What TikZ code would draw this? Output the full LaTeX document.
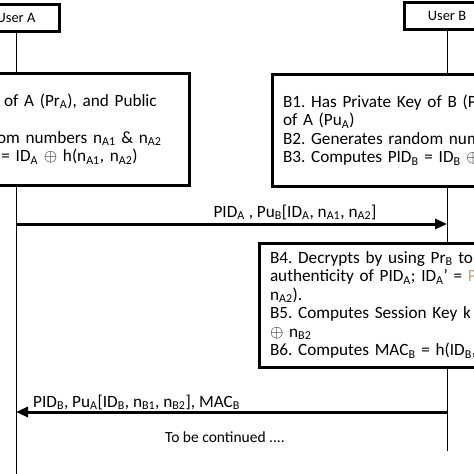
\documentclass[tikz,border=0pt]{standalone}
\usepackage{fontspec}
\setmainfont{Carlito}
\usepackage{tikz}
\usetikzlibrary{arrows.meta,positioning}
\definecolor{hltan}{RGB}{200,165,115}
\newcommand{\sbs}[1]{\textsubscript{#1}}
\frenchspacing

\begin{document}
\begin{tikzpicture}[
  x=1pt, y=-1pt,
  user/.style={draw, fill=white, line width=3pt, minimum width=86pt, minimum height=27pt, inner sep=0pt, outer sep=0pt, font=\fontsize{14.4}{17}\selectfont},
  stepbox/.style={draw, fill=white, line width=3pt, anchor=north west, outer sep=0pt, inner xsep=11pt, inner ysep=0pt, align=left, font=\fontsize{17.2}{18.5}\selectfont},
  life/.style={line width=0.8pt},
  msg/.style={-{Triangle[length=12pt,width=10pt]}, line width=3pt},
  lbl/.style={font=\fontsize{17.2}{19}\selectfont, anchor=base, inner sep=0pt}
]
  \useasboundingbox (0,0) rectangle (474,474);
  \clip (0,0) rectangle (474,474);

  % participants and lifelines
  \node[user] (userA) at (16,17.5) {User A};
  \node[user] (userB) at (447,16) {User B};
  \coordinate (endA) at (16,476);
  \coordinate (endB) at (447,451);
  \draw[life] (userA.south) -- (endA);
  \draw[life] (userB.south) -- (endB);

  % local steps
  \node[stepbox, minimum width=341pt, minimum height=112pt, text width=319pt] (boxA) at (-152,73)
    {A1. Has Private Key of A (Pr\sbs{A}), and Public\\
     Key of B (Pu\sbs{B})\\
     A2. Generates random numbers n\sbs{A1} \& n\sbs{A2}\\
     A3. Computes PID\sbs{A} = ID\sbs{A} $\oplus$ h(n\sbs{A1}, n\sbs{A2})};
  \node[stepbox, minimum width=400pt, minimum height=112pt, text width=378pt] (boxB) at (272,74)
    {B1. Has Private Key of B (Pr\sbs{B}), and Public Key\\
     of A (Pu\sbs{A})\\
     B2. Generates random numbers n\sbs{B1} \& n\sbs{B2}\\
     B3. Computes PID\sbs{B} = ID\sbs{B} $\oplus$ h(n\sbs{B1}, n\sbs{B2})};
  \node[stepbox, minimum width=420pt, minimum height=124pt, text width=398pt] (boxB2) at (259,243)
    {B4. Decrypts by using Pr\sbs{B} to verify the\\
     authenticity of PID\sbs{A}; ID\sbs{A}’ = {\color{hltan}PID\sbs{A} $\oplus$ h(n\sbs{A1},}\\
     n\sbs{A2}).\\
     B5. Computes Session Key k = n\sbs{A1} $\oplus$ n\sbs{B1}\\
     $\oplus$ n\sbs{B2}\\
     B6. Computes MAC\sbs{B} = h(ID\sbs{B}, k)};

  % messages
  \coordinate (m1A) at (userA.south |- 0,224);
  \coordinate (m1B) at (userB.south |- 0,224);
  \coordinate (m2A) at (userA.south |- 0,412);
  \coordinate (m2B) at (userB.south |- 0,412);
  \draw[msg] (m1A) -- (m1B);
  \node[lbl] (lblA) at (295,217) {PID\sbs{A} , Pu\sbs{B}[ID\sbs{A}, n\sbs{A1}, n\sbs{A2}]};
  \draw[msg] (m2B) -- (m2A);
  \node[lbl, anchor=base west] (lblB) at (33,407) {PID\sbs{B}, Pu\sbs{A}[ID\sbs{B}, n\sbs{B1}, n\sbs{B2}], MAC\sbs{B}};
  \node[lbl, font=\fontsize{15.5}{17}\selectfont] (cont) at (225,442) {To be continued ....};
\end{tikzpicture}
\end{document}
